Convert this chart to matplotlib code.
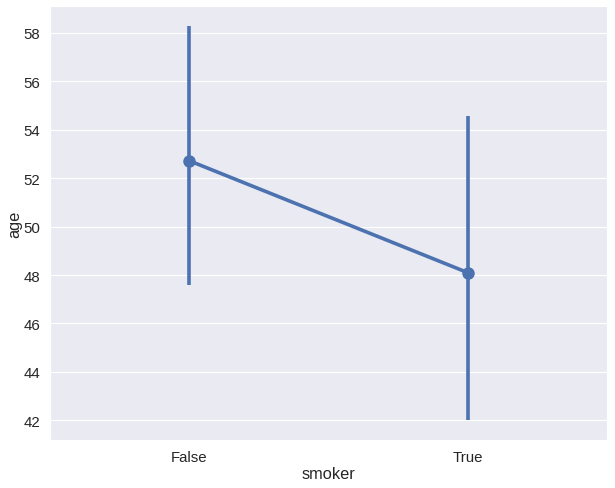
import matplotlib
matplotlib.use('Agg')
from matplotlib import pyplot as plt
import seaborn as sns

sns.set_style('darkgrid')
plt.rcParams['font.family'] = ['Liberation Sans', 'DejaVu Sans']

categories = ['False', 'True']
means = [52.72, 48.10]
ci_low = [47.61, 42.00]
ci_high = [58.29, 54.58]

color = '#4C72B0'

fig, ax = plt.subplots(figsize=(6.15, 4.89), dpi=100)
plt.subplots_adjust(left=0.0813, right=0.987, top=0.9857, bottom=0.0982)

xs = list(range(len(categories)))
for i in xs:
    ax.plot([i, i], [ci_low[i], ci_high[i]], color=color, lw=2.6, solid_capstyle='butt', zorder=2)
ax.plot(xs, means, color=color, lw=2.6, marker='o', markersize=8, zorder=3)

ax.set_xticks(xs)
ax.set_xticklabels(categories)
ax.set_xlim(-0.5, 1.5)
ax.set_ylim(41.19, 59.11)
ax.set_yticks([42, 44, 46, 48, 50, 52, 54, 56, 58])
ax.tick_params(labelsize=10.8, colors='#262626')
ax.set_xlabel('smoker', fontsize=11.8, color='#262626', labelpad=2)
ax.set_ylabel('age', fontsize=11.8, color='#262626', labelpad=1)
ax.grid(axis='x', visible=False)

fig.savefig('out.png', dpi=100)
